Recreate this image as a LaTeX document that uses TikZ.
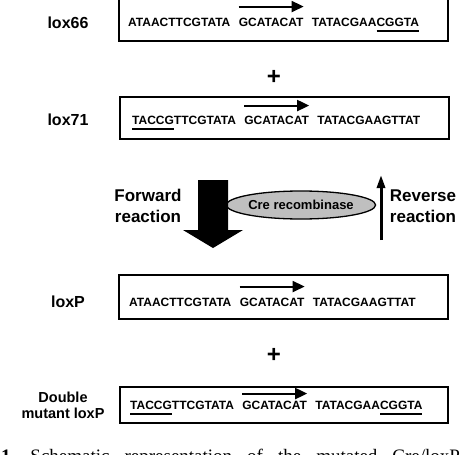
\documentclass[tikz,border=0pt]{standalone}
\usepackage{fontspec}
\setmainfont{Liberation Sans}
\newfontfamily\capfont{Liberation Serif}
\usetikzlibrary{positioning,shapes.geometric,arrows.meta}

% underlined (mutated) bases
\newcommand\mutbar[1]{\setbox0\hbox{#1}\rlap{\smash{\rule[-6pt]{\wd0}{2.4pt}}}\box0}

\begin{document}
\begin{tikzpicture}[x=1pt,y=-1pt,
  seqbox/.style={draw,line width=1.5pt,minimum width=329pt,inner sep=0pt},
  seq/.style={inner sep=0pt,font=\fontsize{12}{14}\selectfont\bfseries},
  lbl/.style={font=\fontsize{16}{19}\selectfont\bfseries,align=center},
  big/.style={font=\fontsize{17}{21}\selectfont\bfseries,align=center},
  site/.style={line width=2pt,-{Triangle[length=12pt,width=11pt]}},
  node distance=8pt]

\useasboundingbox (0,0) rectangle (474,455);

% boxes
\node(box66) at (283.5,19)[seqbox,minimum height=44pt]{};
\node(box71) at (284.5,118)[seqbox,minimum height=42pt]{};
\node(boxP) at (283.5,297)[seqbox,minimum height=44pt]{};
\node(boxDM) at (284,405)[seqbox,minimum height=36pt,minimum width=328pt]{};

% sequences
\node(s66a) at (128,22)[seq,anchor=west]{ATAACTTCGTATA};
\node(s66b)[seq,right=of s66a]{GCATACAT};
\node(s66c)[seq,right=of s66b]{TATACGAA\mutbar{CGGTA}};
\draw[site] ([yshift=11pt]s66b.north west) -- ([yshift=11pt]s66b.north east);

\node(s71a) at (132,120)[seq,anchor=west]{\mutbar{TACCG}TTCGTATA};
\node(s71b)[seq,right=of s71a]{GCATACAT};
\node(s71c)[seq,right=of s71b]{TATACGAAGTTAT};
\draw[site] ([yshift=10pt]s71b.north west) -- ([yshift=10pt]s71b.north east);

\node(sPa) at (129,302)[seq,anchor=west]{ATAACTTCGTATA};
\node(sPb)[seq,right=of sPa]{GCATACAT};
\node(sPc)[seq,right=of sPb]{TATACGAAGTTAT};
\draw[site] ([yshift=11pt]sPb.north west) -- ([yshift=11pt]sPb.north east);

\node(sDMa) at (130,405)[seq,anchor=west]{\mutbar{TACCG}TTCGTATA};
\node(sDMb)[seq,right=of sDMa]{GCATACAT};
\node(sDMc)[seq,right=of sDMb]{TATACGAA\mutbar{CGGTA}};
\draw[site] ([yshift=7pt]sDMb.north west) -- ([yshift=7pt]sDMb.north east);

% names
\node(l66) at (68,23)[lbl]{lox66};
\node(l71) at (68,120)[lbl]{lox71};
\node(lP) at (68,302)[lbl]{loxP};
\node(lDM) at (63,405)[align=center,font=\fontsize{14.5}{16}\selectfont\bfseries]{Double\\mutant loxP};

\node(plus1) at (274,77)[font=\fontsize{24}{24}\selectfont\bfseries]{+};
\node(plus2) at (274,355)[font=\fontsize{24}{24}\selectfont\bfseries]{+};

% reaction
\node(fwd) at (148,206)[big]{Forward\\reaction};
\node(rev) at (423,206)[big]{Reverse\\reaction};
\node(cre) at (301,205)[ellipse,draw,line width=1.3pt,fill=black!25,minimum width=136pt,minimum height=28pt,inner sep=0pt,font=\fontsize{13}{15}\selectfont\bfseries]{Cre recombinase};

\fill (198,180) -- (228,180) -- (228,230) -- (243,230) -- (213,248) -- (183,230) -- (198,230) -- cycle;

\coordinate(revbot) at (381,240);
\coordinate(revtop) at (381,175);
\draw[line width=3pt,-{Triangle[length=13pt,width=8pt]}] (revbot) -- (revtop);

% caption, cut off at the bottom
\begin{scope}
\clip (0,0) rectangle (474,455);
\node(cap) at (1,462.5)[anchor=base west,inner sep=0pt,font=\capfont\fontsize{19}{22}\selectfont]{\textbf{1.}\hspace{15pt}{\spaceskip=15pt Schematic representation of the mutated Cre/loxP}};
\end{scope}

\end{tikzpicture}
\end{document}
